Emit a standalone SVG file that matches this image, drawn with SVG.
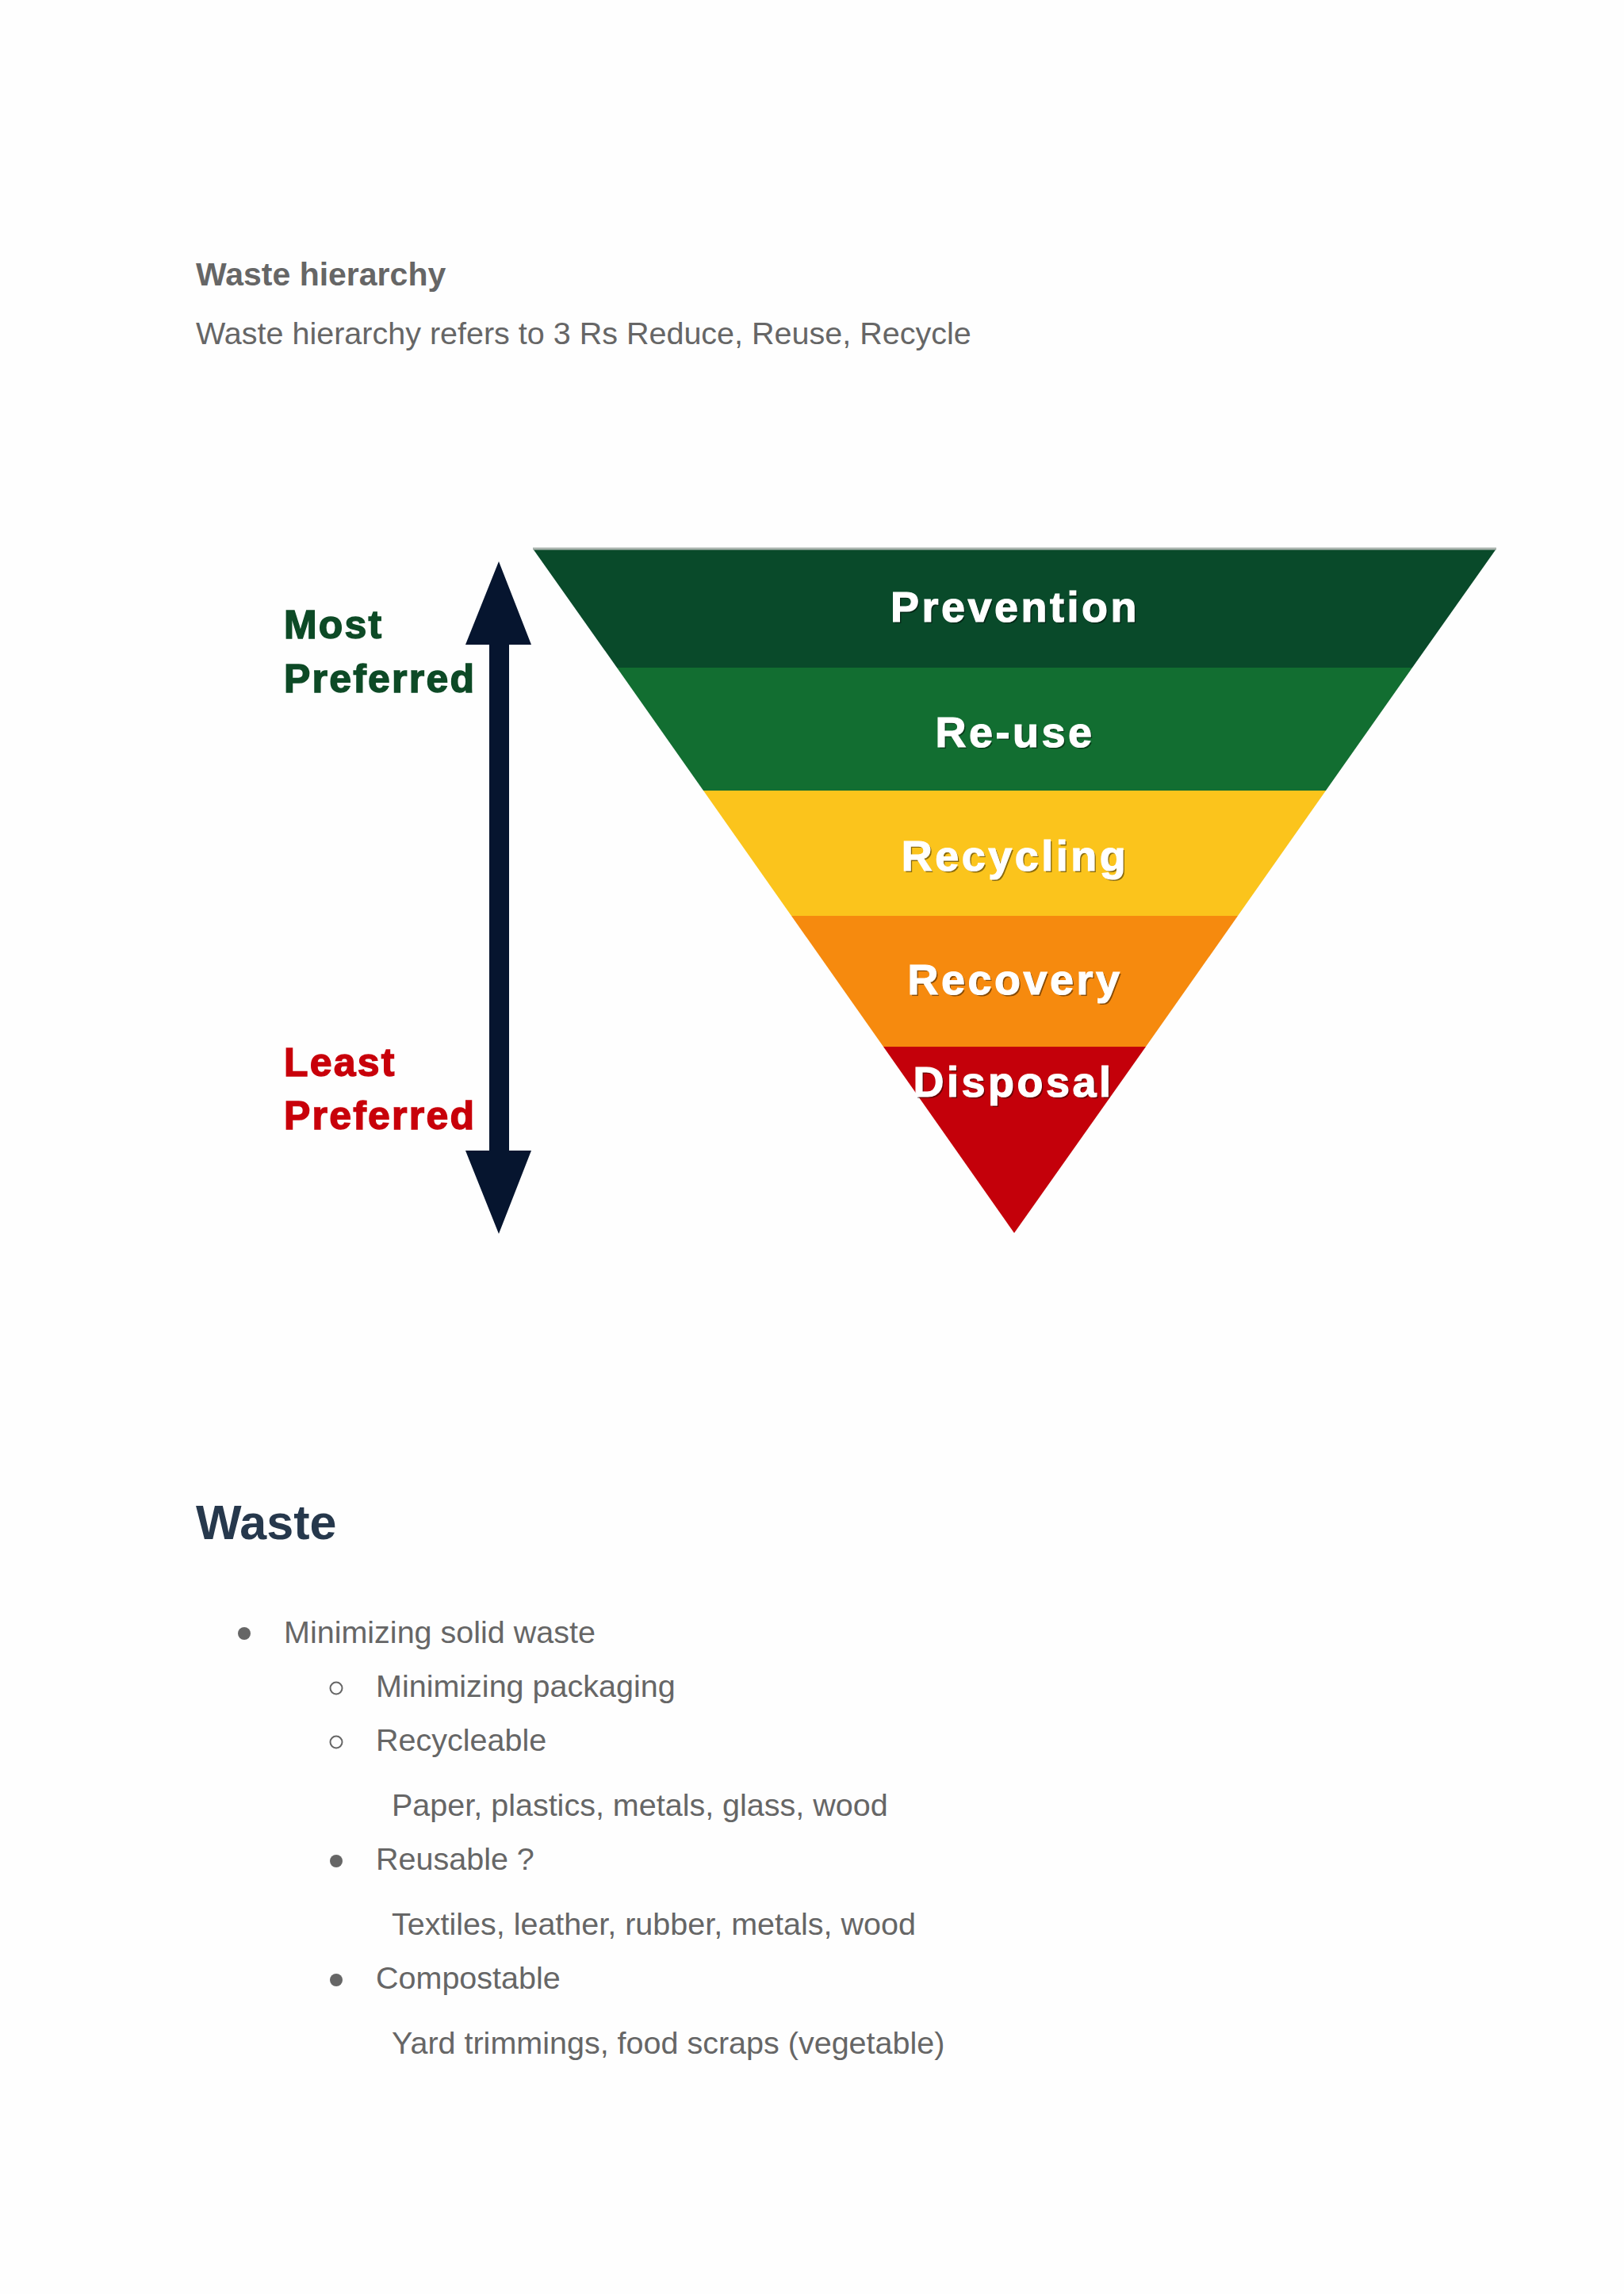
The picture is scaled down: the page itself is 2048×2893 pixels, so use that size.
<svg xmlns="http://www.w3.org/2000/svg" width="2048" height="2893" viewBox="0 0 2048 2893">
  <style>
    .body { font-family: "Liberation Sans", Arial, sans-serif; fill: #666666; font-size: 39.5px; }
    .h1 { font-family: "Liberation Sans", Arial, sans-serif; fill: #666666; font-size: 41px; font-weight: bold; }
    .h2 { font-family: "Liberation Sans", Arial, sans-serif; fill: #26384c; font-size: 61px; font-weight: bold; }
    .band { font-family: "Liberation Sans", Arial, sans-serif; font-size: 54px; font-weight: bold; letter-spacing: 3.5px; text-anchor: middle; stroke-width: 1.2px; }
    .band-shadow { fill: #000000; fill-opacity: 0.45; }
    .band-text { fill: #ffffff; stroke: #ffffff; }
    .pref { font-family: "Liberation Sans", Arial, sans-serif; font-size: 50px; font-weight: bold; letter-spacing: 2.2px; stroke-width: 1.4px; }
    .dot { fill: #666666; }
    .ring { fill: none; stroke: #666666; stroke-width: 2; }
  </style>
  <rect x="0" y="0" width="2048" height="2893" fill="#fefefe"/>

  <g id="header">
    <text class="h1" x="247" y="360">Waste hierarchy</text>
    <text class="body" x="247" y="434">Waste hierarchy refers to 3 Rs Reduce, Reuse, Recycle</text>
  </g>

  <g id="arrow">
    <polygon fill="#06152f" points="629,708 670,813 642,813 642,1451 670,1451 629,1556 587,1451 617,1451 617,813 587,813"/>
  </g>

  <g id="most-preferred">
    <text class="pref" x="358" y="805" fill="#0d4a26" stroke="#0d4a26">Most</text>
    <text class="pref" x="358" y="873" fill="#0d4a26" stroke="#0d4a26">Preferred</text>
  </g>
  <g id="least-preferred">
    <text class="pref" x="358" y="1357" fill="#c8000a" stroke="#c8000a">Least</text>
    <text class="pref" x="358" y="1424" fill="#c8000a" stroke="#c8000a">Preferred</text>
  </g>

  <g id="prevention">
    <polygon fill="#094a2a" points="672,692 1887,692 1781,842 778,842"/>
    <line x1="672" y1="692" x2="1887" y2="692" stroke="#a9b3ad" stroke-width="3"/>
    <text class="band band-shadow" x="1282" y="786">Prevention</text>
    <text class="band band-text" x="1280" y="784">Prevention</text>
  </g>
  <g id="reuse">
    <polygon fill="#126e31" points="778,842 1781,842 1672,997 887,997"/>
    <text class="band band-shadow" x="1282" y="944">Re-use</text>
    <text class="band band-text" x="1280" y="942">Re-use</text>
  </g>
  <g id="recycling">
    <polygon fill="#fbc41c" points="887,997 1672,997 1561,1155 998,1155"/>
    <text class="band band-shadow" x="1282" y="1100" fill-opacity="0.15">Recycling</text>
    <text class="band band-text" x="1280" y="1098">Recycling</text>
  </g>
  <g id="recovery">
    <polygon fill="#f68a0e" points="998,1155 1561,1155 1445,1320 1114,1320"/>
    <text class="band band-shadow" x="1282" y="1256" fill-opacity="0.15">Recovery</text>
    <text class="band band-text" x="1280" y="1254">Recovery</text>
  </g>
  <g id="disposal">
    <polygon fill="#c4000a" points="1114,1320 1445,1320 1279,1555"/>
    <text class="band band-shadow" x="1280" y="1385" fill-opacity="0.2">Disposal</text>
    <text class="band band-text" x="1278" y="1383">Disposal</text>
  </g>

  <g id="waste-section">
    <text class="h2" x="247" y="1941">Waste</text>
    <circle class="dot" cx="308" cy="2060" r="8"/>
    <text class="body" x="358" y="2072">Minimizing solid waste</text>
    <circle class="ring" cx="424" cy="2129" r="7.5"/>
    <text class="body" x="474" y="2140">Minimizing packaging</text>
    <circle class="ring" cx="424" cy="2197" r="7.5"/>
    <text class="body" x="474" y="2208">Recycleable</text>
    <text class="body" x="494" y="2290">Paper, plastics, metals, glass, wood</text>
    <circle class="dot" cx="424" cy="2347" r="8"/>
    <text class="body" x="474" y="2358">Reusable ?</text>
    <text class="body" x="494" y="2440">Textiles, leather, rubber, metals, wood</text>
    <circle class="dot" cx="424" cy="2497" r="8"/>
    <text class="body" x="474" y="2508">Compostable</text>
    <text class="body" x="494" y="2590">Yard trimmings, food scraps (vegetable)</text>
  </g>
</svg>
